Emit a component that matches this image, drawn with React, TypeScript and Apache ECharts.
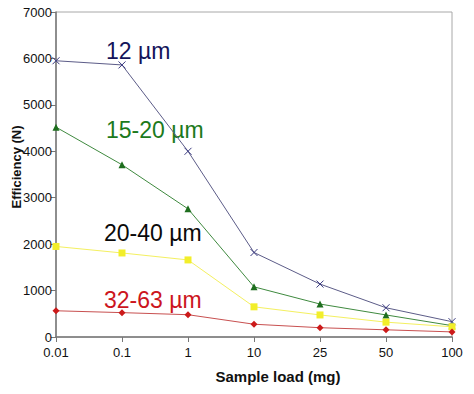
import React, { useEffect, useRef } from "react";
import * as echarts from "echarts";

const loads = ["0.01", "0.1", "1", "10", "25", "50", "100"];
const eff12 = [5950, 5860, 4000, 1820, 1140, 630, 330];
const eff15to20 = [4520, 3710, 2760, 1080, 710, 475, 245];
const eff20to40 = [1950, 1810, 1660, 650, 475, 320, 220];
const eff32to63 = [565, 525, 480, 275, 200, 155, 110];
const yTicks = [0, 1000, 2000, 3000, 4000, 5000, 6000, 7000];

const FONT = "Liberation Sans, Arial, sans-serif";

export default function App() {
  const ref = useRef<HTMLDivElement>(null);
  useEffect(() => {
    if (!ref.current) return;
    const chart = echarts.init(ref.current, null, { renderer: "svg" });
    const mk = (name: string, data: number[], line: string, symbol: string, fill: string, size: number, cross = false) => ({
      name,
      type: "line",
      data,
      symbol,
      symbolSize: size,
      lineStyle: { color: line, width: 1 },
      itemStyle: cross
        ? { color: "none", borderColor: fill, borderWidth: 1 }
        : { color: fill, borderWidth: 0 },
      z: 3,
    });
    chart.setOption({
      animation: false,
      backgroundColor: "#fff",
      textStyle: { fontFamily: FONT },
      grid: {
        left: 56,
        right: 22,
        top: 12,
        bottom: 57,
        show: true,
        borderColor: "#a8a8a8",
        borderWidth: 1,
      },
      xAxis: {
        type: "category",
        data: loads,
        boundaryGap: false,
        axisLine: { lineStyle: { color: "#777", width: 1.5 } },
        axisTick: { show: true, inside: false, length: 5, lineStyle: { color: "#777" } },
        axisLabel: { fontSize: 13, color: "#111", margin: 9, fontFamily: FONT },
        splitLine: { show: false },
      },
      yAxis: {
        type: "value",
        min: yTicks[0],
        max: yTicks[yTicks.length - 1],
        interval: 1000,
        axisLine: { show: true, lineStyle: { color: "#777", width: 1.5 } },
        axisTick: { show: true, length: 5, lineStyle: { color: "#777" } },
        axisLabel: { fontSize: 13, color: "#111", margin: 4, fontFamily: FONT, formatter: (v: number) => String(v) },
        splitLine: { show: false },
      },
      series: [
        mk("12 µm", eff12, "#5c5c88", "path://M0,0L10,10M10,0L0,10", "#3a3a80", 7, true),
        mk("15-20 µm", eff15to20, "#3f8a3f", "triangle", "#1e6e1e", 7),
        mk("20-40 µm", eff20to40, "#f4f060", "rect", "#f2ee2a", 7),
        mk("32-63 µm", eff32to63, "#c85050", "diamond", "#cc1a1a", 7),
      ],
      graphic: [
        {
          type: "text",
          x: 278,
          y: 376,
          style: { text: "Sample load (mg)", fontSize: 15, fontWeight: "bold", fill: "#111", fontFamily: FONT, align: "center", verticalAlign: "middle" },
        },
        {
          type: "text",
          x: 16,
          y: 167,
          rotation: Math.PI / 2,
          style: { text: "Efficiency (N)", fontSize: 13, fontWeight: "bold", fill: "#111", fontFamily: FONT, align: "center", verticalAlign: "middle" },
        },
        { type: "text", left: 106, top: 39, style: { text: "12 µm", fontSize: 23, fill: "#14145a", fontFamily: FONT } },
        { type: "text", left: 106, top: 118, style: { text: "15-20 µm", fontSize: 23, fill: "#1c7a1c", fontFamily: FONT } },
        { type: "text", left: 104, top: 221, style: { text: "20-40 µm", fontSize: 23, fill: "#0a0a0a", fontFamily: FONT } },
        { type: "text", left: 104, top: 288, style: { text: "32-63 µm", fontSize: 23, fill: "#cc1520", fontFamily: FONT } },
      ],
    });
    return () => chart.dispose();
  }, []);
  return <div ref={ref} style={{ width: 474, height: 394, position: "absolute", left: 0, top: 0 }} />;
}
